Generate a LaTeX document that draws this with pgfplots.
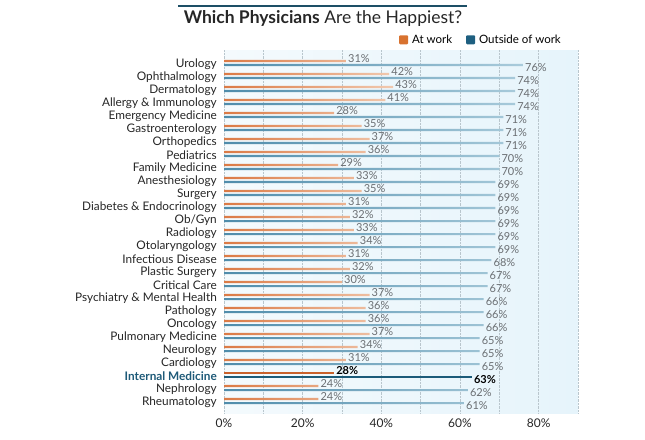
\documentclass[border=0pt]{standalone}
\usepackage{pgfplots}
\pgfplotsset{compat=1.18}
\usepackage{fontspec}
\setmainfont{Lato}
\definecolor{orA}{HTML}{DB7A45}
\definecolor{orB}{HTML}{F1C9AF}
\definecolor{blA}{HTML}{4F8CAB}
\definecolor{blB}{HTML}{A9CBDB}
\definecolor{orH}{HTML}{C9612B}
\definecolor{blH}{HTML}{1C5B79}
\definecolor{legO}{HTML}{D8722F}
\definecolor{legB}{HTML}{1E5F80}
\definecolor{bgL}{HTML}{F4FAFD}
\definecolor{bgR}{HTML}{E6F4FB}
\definecolor{titleline}{HTML}{1D4F66}
\definecolor{imteal}{HTML}{1E5A78}
\definecolor{valgrey}{HTML}{6A6E72}
\definecolor{gridc}{HTML}{B9C6CD}
\begin{document}
\begin{tikzpicture}
\path[use as bounding box] (0pt,0pt) rectangle (645pt,439pt);
\begin{axis}[
  at={(224pt,26pt)}, anchor=south west,
  scale only axis, width=354pt, height=363pt,
  xmin=0, xmax=90, ymin=-1, ymax=26.92,
  y dir=reverse,
  /pgf/number format/assume math mode=true,
  axis background/.style={left color=bgL, right color=bgR},
  axis line style={draw=none},
  major tick length=0pt, minor tick length=0pt,
  xtick={0,20,40,60,80},
  xticklabels={0\%,20\%,40\%,60\%,80\%},
  minor xtick={10,30,50,70,90},
  xmajorgrids, xminorgrids,
  major grid style={densely dotted, gridc, line width=0.5pt},
  minor grid style={densely dotted, gridc, line width=0.5pt},
  xticklabel style={font=\fontsize{12}{14}\selectfont, inner sep=0pt, yshift=-6pt, text=black!85},
  ytick={0,...,26},
  yticklabels={Urology,Ophthalmology,Dermatology,Allergy \& Immunology,Emergency Medicine,Gastroenterology,Orthopedics,Pediatrics,Family Medicine,Anesthesiology,Surgery,Diabetes \& Endocrinology,Ob/Gyn,Radiology,Otolaryngology,Infectious Disease,Plastic Surgery,Critical Care,Psychiatry \& Mental Health,Pathology,Oncology,Pulmonary Medicine,Neurology,Cardiology,{\bfseries\color{imteal}Internal Medicine},Nephrology,Rheumatology},
  yticklabel style={font=\fontsize{11.8}{13}\selectfont, inner sep=0pt, xshift=-7pt, yshift=-1.5pt, text=black!85},
  clip=false,
  legend style={draw=none, fill=none, at={(1,1)}, anchor=south east, xshift=-12pt, yshift=1pt,
    font=\fontsize{11.5}{13}\selectfont, legend columns=2,
    /tikz/every odd column/.append style={column sep=2pt},
    /tikz/every even column/.append style={column sep=12pt}},
  legend image code/.code={\fill[#1, rounded corners=1pt] (0pt,-4.5pt) rectangle (9pt,4.5pt);},
  point meta=x,
  nodes near coords={\pgfmathprintnumber{\pgfplotspointmeta}\%},
]
\addlegendimage{fill=legO, draw=none}
\addlegendentry{At work}
\addlegendimage{fill=legB, draw=none}
\addlegendentry{Outside of work}
% At work
\addplot[xbar, bar width=2.2pt, draw=none, left color=orA, right color=orB, forget plot,
  every node near coord/.append style={font=\fontsize{11}{12}\selectfont, text=valgrey, anchor=west, inner sep=1pt, xshift=1pt, yshift=2pt}]
table[x=v, y=y] {
y v
-0.16 31
0.84 42
1.84 43
2.84 41
3.84 28
4.84 35
5.84 37
6.84 36
7.84 29
8.84 33
9.84 35
10.84 31
11.84 32
12.84 33
13.84 34
14.84 31
15.84 32
16.84 30
17.84 37
18.84 36
19.84 36
20.84 37
21.84 34
22.84 31
24.84 24
25.84 24
};
% Outside of work
\addplot[xbar, bar width=2.2pt, draw=none, left color=blA, right color=blB, forget plot,
  every node near coord/.append style={font=\fontsize{11}{12}\selectfont, text=valgrey, anchor=west, inner sep=1pt, xshift=1pt, yshift=-2pt}]
table[x=v, y=y] {
y v
0.16 76
1.16 74
2.16 74
3.16 74
4.16 71
5.16 71
6.16 71
7.16 70
8.16 70
9.16 69
10.16 69
11.16 69
12.16 69
13.16 69
14.16 69
15.16 68
16.16 67
17.16 67
18.16 66
19.16 66
20.16 66
21.16 65
22.16 65
23.16 65
25.16 62
26.16 61
};
% Internal Medicine highlight
\addplot[xbar, bar width=2.4pt, draw=none, fill=orH, forget plot,
  every node near coord/.append style={font=\fontsize{11}{12}\selectfont\bfseries, text=black, anchor=west, inner sep=1pt, xshift=1pt, yshift=2pt}]
table[x=v, y=y] {
y v
23.84 28
};
\addplot[xbar, bar width=2.4pt, draw=none, fill=blH, forget plot,
  every node near coord/.append style={font=\fontsize{11}{12}\selectfont\bfseries, text=black, anchor=west, inner sep=1pt, xshift=1pt, yshift=-2pt}]
table[x=v, y=y] {
y v
24.16 63
};
\end{axis}
\draw[titleline, line width=2pt] (178pt,433pt) -- (467pt,433pt);
\node[font=\fontsize{17.5}{20}\selectfont, text=black!85] at (323pt,420pt) {{\bfseries Which Physicians} Are the Happiest?};
\end{tikzpicture}
\end{document}
